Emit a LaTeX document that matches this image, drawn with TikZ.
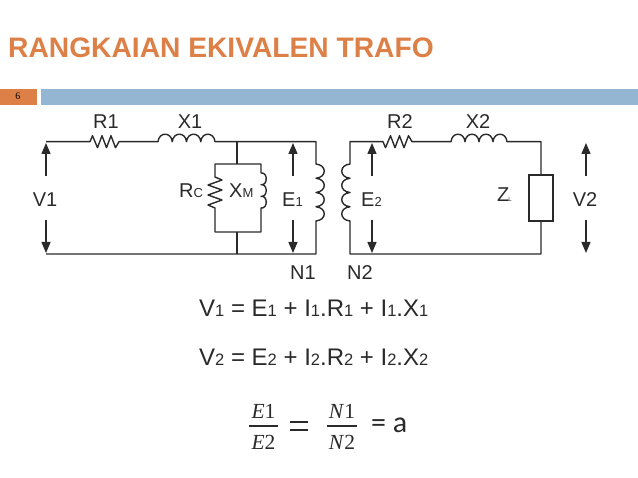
\documentclass[tikz,border=0pt]{standalone}
\usepackage{fontspec}
\setmainfont{Liberation Sans}
\newfontfamily\calfont{Carlito}
\newfontfamily\mathfont{Liberation Serif}
\usetikzlibrary{arrows.meta}
\definecolor{accentorange}{HTML}{DD8047}
\definecolor{accentblue}{HTML}{94B6D2}
\definecolor{inkdark}{HTML}{2A2A2A}
\newcommand{\fsz}[1]{\fontsize{#1}{#1}\selectfont}
\newcommand{\smallsub}[1]{{\fsz{13}#1}}
\newcommand{\eqsub}[1]{{\fsz{16.5}#1}}
\tikzset{
  wire/.style={draw=inkdark,line width=1.4pt,line join=round},
  volt/.style={draw=inkdark,line width=1.4pt,-{Stealth[length=11pt,width=9pt,inset=0pt]}},
  lab/.style={inner sep=0pt,text=inkdark,font=\fsz{20}},
  eq/.style={inner sep=0pt,text=inkdark,font=\fsz{24}},
  frac/.style={inner sep=0pt,text=inkdark,font=\fsz{21.5}\mathfont},
  fracbar/.style={draw=inkdark,line width=1.2pt},
  eqbar/.style={draw=inkdark,line width=1.7pt},
}
\begin{document}
\begin{tikzpicture}[x=1pt,y=-1pt]
\useasboundingbox (0,0) rectangle (638,478);
% header
\node[anchor=west,inner sep=0pt,text=accentorange,font=\fsz{28.2}\bfseries] (title) at (8,48) {RANGKAIAN EKIVALEN TRAFO};
\fill[accentorange] (0,89) rectangle (37,105);
\fill[accentblue] (41,89) rectangle (638,105);
\node[inner sep=0pt,font=\fsz{10}\mathfont] (page) at (18,96.5) {6};
% junction coordinates
\coordinate (tl) at (46,141.7);
\coordinate (bl) at (46,254);
\coordinate (r1a) at (90,141.7);
\coordinate (r1b) at (119,141.7);
\coordinate (x1a) at (158,141.7);
\coordinate (x1b) at (215,141.7);
\coordinate (jt) at (237,141.7);
\coordinate (jb) at (237,254);
\coordinate (tr) at (316,141.7);
\coordinate (br) at (316,254);
\coordinate (pa) at (316,164);
\coordinate (pb) at (316,221);
\coordinate (bxt) at (237,164);
\coordinate (bxb) at (237,232);
\coordinate (blt) at (215,164);
\coordinate (blb) at (215,232);
\coordinate (brt) at (261,164);
\coordinate (brb) at (261,232);
\coordinate (rca) at (215,177);
\coordinate (rcb) at (215,208);
\coordinate (xma) at (261,173);
\coordinate (xmb) at (261,208);
\coordinate (stl) at (350,141.7);
\coordinate (sbl) at (350,254);
\coordinate (sa) at (350,164);
\coordinate (sb) at (350,221);
\coordinate (r2a) at (383,141.7);
\coordinate (r2b) at (412,141.7);
\coordinate (x2a) at (451,141.7);
\coordinate (x2b) at (507,141.7);
\coordinate (str) at (541,141.7);
\coordinate (sbr) at (541,254);
\node[draw=inkdark,line width=1.4pt,minimum width=24pt,minimum height=46pt,inner sep=0pt] (zl) at (541,198) {};
% primary loop
\draw[wire] (tl) -- (r1a)
  -- ++(2.5,-6) -- ++(5,12) -- ++(4.5,-12) -- ++(4.5,12) -- ++(4.5,-12) -- ++(4.5,12) -- ++(3.5,-6)
  -- (x1a)
  \foreach \i in {1,2,3,4}{ .. controls +(1,-10) and +(-1,-10) .. ++(14.25,0) }
  -- (jt) -- (tr) -- (pa)
  \foreach \i in {1,2,3,4}{ .. controls +(11,1) and +(11,-1) .. ++(0,14.25) }
  -- (br) -- (bl);
% magnetising branch
\draw[wire] (jt) -- (bxt);
\draw[wire] (jb) -- (bxb);
\draw[wire] (brt) -- (blt) -- (rca)
  -- ++(7,3) -- ++(-14,5) -- ++(14,5) -- ++(-14,5) -- ++(14,5) -- ++(-14,5) -- ++(7,3)
  -- (blb) -- (brb) -- (xmb)
  \foreach \i in {1,2,3}{ .. controls +(7,1) and +(7,-1) .. ++(0,-11.67) }
  -- (brt);
% secondary loop
\draw[wire] (zl.north) -- (str) -- (x2b)
  \foreach \i in {1,2,3,4}{ .. controls +(-1,-10) and +(1,-10) .. ++(-14,0) }
  -- (r2b)
  -- ++(-3.5,-6) -- ++(-4.5,12) -- ++(-4.5,-12) -- ++(-4.5,12) -- ++(-4.5,-12) -- ++(-5,12) -- ++(-2.5,-6)
  -- (stl) -- (sa)
  \foreach \i in {1,2,3,4}{ .. controls +(-11,1) and +(-11,-1) .. ++(0,14.25) }
  -- (sbl) -- (sbr) -- (zl.south);
% voltage arrows
\coordinate (v1ta) at (46,176); \coordinate (v1tb) at (46,143);
\coordinate (v1ba) at (46,220); \coordinate (v1bb) at (46,253);
\coordinate (e1ta) at (293,176); \coordinate (e1tb) at (293,143);
\coordinate (e1ba) at (293,220); \coordinate (e1bb) at (293,253);
\coordinate (e2ta) at (372,176); \coordinate (e2tb) at (372,143);
\coordinate (e2ba) at (372,220); \coordinate (e2bb) at (372,253);
\coordinate (v2ta) at (586,176); \coordinate (v2tb) at (586,143);
\coordinate (v2ba) at (586,220); \coordinate (v2bb) at (586,253);
\foreach \v in {v1,e1,e2,v2}{
  \draw[volt] (\v ta) -- (\v tb);
  \draw[volt] (\v ba) -- (\v bb);
}
% labels
\node[lab] (lr1) at (106,122) {R1};
\node[lab] (lx1) at (190,122) {X1};
\node[lab] (lv1) at (45,200) {V1};
\node[lab,anchor=west] (lrc) at (179,191) {R\smallsub{C}};
\node[lab,anchor=west] (lxm) at (229,191) {X\smallsub{M}};
\node[lab,anchor=west] (le1) at (282,200) {E\smallsub{1}};
\node[lab] (ln1) at (303,273) {N1};
\node[lab] (ln2) at (360,273) {N2};
\node[lab] (lr2) at (400,122) {R2};
\node[lab] (lx2) at (478,122) {X2};
\node[lab,anchor=west] (le2) at (361,200) {E\smallsub{2}};
\node[lab,anchor=west] (lz) at (497,195) {Z\hspace{-1pt}{\fsz{6}L}};
\node[lab] (lv2) at (585,200) {V2};
% equations
\node[eq,anchor=west] (eq1) at (199,308) {V\eqsub{1} = E\eqsub{1} + I\eqsub{1}.R\eqsub{1} + I\eqsub{1}.X\eqsub{1}};
\node[eq,anchor=west] (eq2) at (199,357) {V\eqsub{2} = E\eqsub{2} + I\eqsub{2}.R\eqsub{2} + I\eqsub{2}.X\eqsub{2}};
% ratio
\node[frac] (fe1) at (263.5,411) {\textit{E}1};
\node[frac] (fe2) at (263.5,442) {\textit{E}2};
\draw[fracbar] (249,426) -- (278,426);
\node[frac] (fn1) at (342,411) {\textit{N}1};
\node[frac] (fn2) at (342,442) {\textit{N}2};
\draw[fracbar] (327,426) -- (357,426);
\coordinate (eqa) at (290,422); \coordinate (eqb) at (308,422);
\coordinate (eqc) at (290,430); \coordinate (eqd) at (308,430);
\draw[eqbar] (eqa) -- (eqb);
\draw[eqbar] (eqc) -- (eqd);
\node[inner sep=0pt,text=inkdark,font=\fsz{30}\calfont,anchor=west] (fa) at (371,425) {= a};
\end{tikzpicture}
\end{document}
